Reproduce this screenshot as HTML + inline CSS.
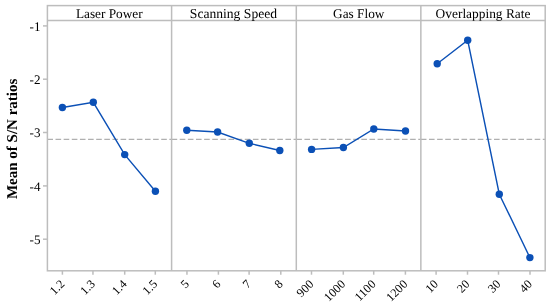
<!DOCTYPE html>
<html><head><meta charset="utf-8"><title>Main Effects Plot</title>
<style>
html,body{margin:0;padding:0;background:#fff;}
svg{display:block;}
text{font-family:"Liberation Serif","Times New Roman",serif;fill:#000;text-rendering:geometricPrecision;}
</style></head><body>
<svg width="550" height="307" viewBox="0 0 550 307">
<rect width="550" height="307" fill="#fff"/>
<line x1="47.4" y1="139.4" x2="171.6" y2="139.4" stroke="#b0b0b0" stroke-width="1.2" stroke-dasharray="5.6 2.53"/>
<line x1="171.6" y1="139.4" x2="296.3" y2="139.4" stroke="#b0b0b0" stroke-width="1.2" stroke-dasharray="5.6 2.53"/>
<line x1="296.3" y1="139.4" x2="420.85" y2="139.4" stroke="#b0b0b0" stroke-width="1.2" stroke-dasharray="5.6 2.53"/>
<line x1="420.85" y1="139.4" x2="545.2" y2="139.4" stroke="#b0b0b0" stroke-width="1.2" stroke-dasharray="5.6 2.53"/>
<g stroke="#bdbdbd" stroke-width="1.5" fill="none">
<rect x="47.4" y="5.6" width="497.80" height="265.20"/>
<line x1="47.4" y1="20.4" x2="545.2" y2="20.4"/>
<line x1="171.6" y1="5.6" x2="171.6" y2="270.8"/>
<line x1="296.3" y1="5.6" x2="296.3" y2="270.8"/>
<line x1="420.85" y1="5.6" x2="420.85" y2="270.8"/>
<line x1="43.0" y1="25.9" x2="47.4" y2="25.9"/>
<line x1="43.0" y1="79.2" x2="47.4" y2="79.2"/>
<line x1="43.0" y1="132.5" x2="47.4" y2="132.5"/>
<line x1="43.0" y1="185.9" x2="47.4" y2="185.9"/>
<line x1="43.0" y1="239.2" x2="47.4" y2="239.2"/>
<line x1="62.4" y1="270.8" x2="62.4" y2="274.7"/>
<line x1="92.95" y1="270.8" x2="92.95" y2="274.7"/>
<line x1="124.7" y1="270.8" x2="124.7" y2="274.7"/>
<line x1="155.3" y1="270.8" x2="155.3" y2="274.7"/>
<line x1="186.95" y1="270.8" x2="186.95" y2="274.7"/>
<line x1="218.4" y1="270.8" x2="218.4" y2="274.7"/>
<line x1="249.1" y1="270.8" x2="249.1" y2="274.7"/>
<line x1="280.8" y1="270.8" x2="280.8" y2="274.7"/>
<line x1="311.5" y1="270.8" x2="311.5" y2="274.7"/>
<line x1="343.3" y1="270.8" x2="343.3" y2="274.7"/>
<line x1="373.7" y1="270.8" x2="373.7" y2="274.7"/>
<line x1="405.4" y1="270.8" x2="405.4" y2="274.7"/>
<line x1="436.1" y1="270.8" x2="436.1" y2="274.7"/>
<line x1="467.5" y1="270.8" x2="467.5" y2="274.7"/>
<line x1="498.5" y1="270.8" x2="498.5" y2="274.7"/>
<line x1="530.0" y1="270.8" x2="530.0" y2="274.7"/>
</g>
<text x="109.30" y="17.7" font-size="13.3" text-anchor="middle">Laser Power</text>
<text x="233.45" y="17.7" font-size="13.6" text-anchor="middle">Scanning Speed</text>
<text x="358.78" y="17.7" font-size="13.3" text-anchor="middle">Gas Flow</text>
<text x="483.03" y="17.7" font-size="13.4" text-anchor="middle">Overlapping Rate</text>
<text x="40.5" y="30.6" font-size="13.1" text-anchor="end">-1</text>
<text x="40.5" y="83.9" font-size="13.1" text-anchor="end">-2</text>
<text x="40.5" y="137.2" font-size="13.1" text-anchor="end">-3</text>
<text x="40.5" y="190.6" font-size="13.1" text-anchor="end">-4</text>
<text x="40.5" y="243.9" font-size="13.1" text-anchor="end">-5</text>
<text transform="translate(17.3 138.85) rotate(-90)" font-size="15" font-weight="bold" text-anchor="middle">Mean of S/N ratios</text>
<text transform="translate(65.2 284.8) rotate(-45)" font-size="12.2" text-anchor="end">1.2</text>
<text transform="translate(95.8 284.8) rotate(-45)" font-size="12.2" text-anchor="end">1.3</text>
<text transform="translate(127.5 284.8) rotate(-45)" font-size="12.2" text-anchor="end">1.4</text>
<text transform="translate(158.1 284.8) rotate(-45)" font-size="12.2" text-anchor="end">1.5</text>
<text transform="translate(189.8 284.8) rotate(-45)" font-size="12.2" text-anchor="end">5</text>
<text transform="translate(221.2 284.8) rotate(-45)" font-size="12.2" text-anchor="end">6</text>
<text transform="translate(251.9 284.8) rotate(-45)" font-size="12.2" text-anchor="end">7</text>
<text transform="translate(283.6 284.8) rotate(-45)" font-size="12.2" text-anchor="end">8</text>
<text transform="translate(314.3 284.8) rotate(-45)" font-size="12.2" text-anchor="end">900</text>
<text transform="translate(346.1 284.8) rotate(-45)" font-size="12.2" text-anchor="end">1000</text>
<text transform="translate(376.5 284.8) rotate(-45)" font-size="12.2" text-anchor="end">1100</text>
<text transform="translate(408.2 284.8) rotate(-45)" font-size="12.2" text-anchor="end">1200</text>
<text transform="translate(438.9 284.8) rotate(-45)" font-size="12.2" text-anchor="end">10</text>
<text transform="translate(470.3 284.8) rotate(-45)" font-size="12.2" text-anchor="end">20</text>
<text transform="translate(501.3 284.8) rotate(-45)" font-size="12.2" text-anchor="end">30</text>
<text transform="translate(532.8 284.8) rotate(-45)" font-size="12.2" text-anchor="end">40</text>
<polyline points="62.4,107.5 93.3,102.3 124.7,154.6 155.4,191.3" fill="none" stroke="#0b50b6" stroke-width="1.4"/>
<circle cx="62.4" cy="107.5" r="3.7" fill="#0b50b6"/>
<circle cx="93.3" cy="102.3" r="3.7" fill="#0b50b6"/>
<circle cx="124.7" cy="154.6" r="3.7" fill="#0b50b6"/>
<circle cx="155.4" cy="191.3" r="3.7" fill="#0b50b6"/>
<polyline points="186.8,130.2 217.6,132.0 249.3,143.3 279.8,150.5" fill="none" stroke="#0b50b6" stroke-width="1.4"/>
<circle cx="186.8" cy="130.2" r="3.7" fill="#0b50b6"/>
<circle cx="217.6" cy="132.0" r="3.7" fill="#0b50b6"/>
<circle cx="249.3" cy="143.3" r="3.7" fill="#0b50b6"/>
<circle cx="279.8" cy="150.5" r="3.7" fill="#0b50b6"/>
<polyline points="311.6,149.4 343.4,147.5 373.8,129.0 405.5,131.0" fill="none" stroke="#0b50b6" stroke-width="1.4"/>
<circle cx="311.6" cy="149.4" r="3.7" fill="#0b50b6"/>
<circle cx="343.4" cy="147.5" r="3.7" fill="#0b50b6"/>
<circle cx="373.8" cy="129.0" r="3.7" fill="#0b50b6"/>
<circle cx="405.5" cy="131.0" r="3.7" fill="#0b50b6"/>
<polyline points="437.2,63.7 467.7,40.3 499.3,194.2 529.9,257.6" fill="none" stroke="#0b50b6" stroke-width="1.4"/>
<circle cx="437.2" cy="63.7" r="3.7" fill="#0b50b6"/>
<circle cx="467.7" cy="40.3" r="3.7" fill="#0b50b6"/>
<circle cx="499.3" cy="194.2" r="3.7" fill="#0b50b6"/>
<circle cx="529.9" cy="257.6" r="3.7" fill="#0b50b6"/>
</svg>
</body></html>
